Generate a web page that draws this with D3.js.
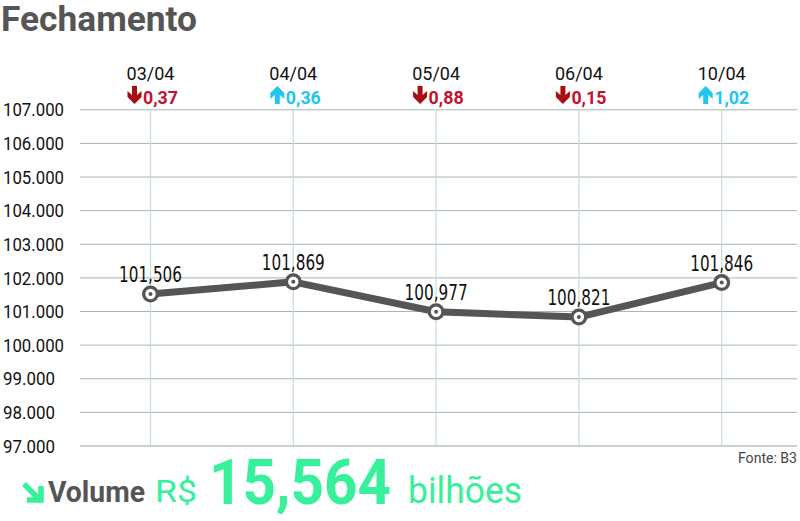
<!DOCTYPE html>
<html>
<head>
<meta charset="utf-8">
<script src="https://cdn.jsdelivr.net/npm/d3@7"></script>
<style>
  body { margin: 0; background: #fff; }
  svg { display: block; }
</style>
</head>
<body>
<div id="chart"></div>
<script>
// data
const dates = ['03/04', '04/04', '05/04', '06/04', '10/04'];
const closes = [101506, 101869, 100977, 100821, 101846];
const changes = [-0.37, 0.36, -0.88, -0.15, 1.02];
const yTicks = [97000, 98000, 99000, 100000, 101000, 102000, 103000, 104000, 105000, 106000, 107000];
const volume = 15.564;

const W = 800, H = 521;
const RED = '#c4122f', RED_ARROW = '#a80d14', CYAN = '#20c6ef', GREEN = '#36f09a', GREY = '#555';

const svg = d3.select('#chart').append('svg').attr('width', W).attr('height', H);

const x = d3.scalePoint().domain(dates).range([150.5, 721.7]);
const y = d3.scaleLinear().domain([97000, 107000]).range([445.5, 109.3]);

const ptLocale = d3.formatLocale({ decimal: ',', thousands: '.', grouping: [3], currency: ['R$ ', ''] });
const tickFmt = ptLocale.format(',');
const chgFmt = ptLocale.format('.2f');
const closeFmt = d3.format(',');
const volFmt = ptLocale.format('.3f');

// squeeze a text to a given width (no condensed fonts installed)
function squeeze(sel, w) {
  sel.attr('textLength', w).attr('lengthAdjust', 'spacingAndGlyphs');
}

// title
svg.append('text')
  .attr('x', 1).attr('y', 31)
  .style('font', 'bold 35px Roboto, sans-serif')
  .style('fill', GREY)
  .text('Fechamento')
  .call(squeeze, 196);

// horizontal grid + y labels
const yAxis = d3.axisLeft(y).tickValues(yTicks).tickSize(-(797 - 80)).tickFormat(tickFmt);
const yG = svg.append('g').attr('transform', 'translate(80,0)').call(yAxis);
yG.select('.domain').remove();
yG.selectAll('.tick line').attr('stroke', (d) => d === 97000 ? '#8fa3a0' : '#a9b5b3').attr('stroke-width', 1);
yG.selectAll('.tick text')
  .attr('x', -77).attr('dy', '0.36em')
  .attr('text-anchor', 'start')
  .style('font', '18.5px Roboto, sans-serif')
  .style('fill', '#111')
  .each(function (d) { d3.select(this).call(squeeze, d >= 100000 ? 61 : 52); });

// vertical grid
svg.append('g').selectAll('line').data(dates).join('line')
  .attr('x1', (d) => x(d)).attr('x2', (d) => x(d))
  .attr('y1', y(107000)).attr('y2', y(97000))
  .attr('stroke', '#c8dcd8').attr('stroke-width', 1.2);

// top date labels
const head = svg.append('g').selectAll('g').data(dates).join('g')
  .attr('transform', (d) => `translate(${x(d)},0)`);
head.append('text')
  .attr('y', 80).attr('text-anchor', 'middle')
  .style('font', '18px Roboto, sans-serif')
  .style('fill', '#111')
  .text((d) => d);
head.append('text')
  .attr('x', 10).attr('y', 104).attr('text-anchor', 'middle')
  .style('font', 'bold 19px Roboto, sans-serif')
  .style('fill', (d, i) => changes[i] < 0 ? RED : CYAN)
  .text((d, i) => chgFmt(Math.abs(changes[i])))
  .call(squeeze, 35);
// heavy arrows
const down = 'M-2.5,-15 L2.5,-15 L2.5,-6 L7,-10 L7,-4 L0,3 L-7,-4 L-7,-10 L-2.5,-6 Z';
const up = 'M-2.5,3 L2.5,3 L2.5,-6 L7,-2 L7,-8 L0,-15 L-7,-8 L-7,-2 L-2.5,-6 Z';
head.append('path')
  .attr('transform', 'translate(-16,101)')
  .attr('d', (d, i) => changes[i] < 0 ? down : up)
  .attr('fill', (d, i) => changes[i] < 0 ? RED_ARROW : CYAN);

// line
const pts = dates.map((d, i) => [x(d), y(closes[i])]);
svg.append('path')
  .attr('d', d3.line()(pts))
  .attr('fill', 'none')
  .attr('stroke', GREY)
  .attr('stroke-width', 7)
  .attr('stroke-linejoin', 'round');

// markers
const mk = svg.append('g').selectAll('g').data(pts).join('g')
  .attr('transform', (d) => `translate(${d[0]},${d[1]})`);
mk.append('circle').attr('r', 8.5).attr('fill', GREY);
mk.append('circle').attr('r', 5.2).attr('fill', '#fff');
mk.append('circle').attr('r', 2).attr('fill', GREY);

// value labels
svg.append('g').selectAll('text').data(pts).join('text')
  .attr('x', (d) => d[0]).attr('y', (d) => d[1] - 12)
  .attr('text-anchor', 'middle')
  .style('font', '22px "DejaVu Sans", sans-serif')
  .style('fill', '#111')
  .text((d, i) => closeFmt(closes[i]))
  .call(squeeze, 63);

// source
svg.append('text')
  .attr('x', 738).attr('y', 463)
  .style('font', '14.5px Roboto, sans-serif')
  .style('fill', '#444')
  .text('Fonte: B3')
  .call(squeeze, 59);

// volume footer
svg.append('path')
  .attr('d', 'M24,484 L38,498 M41,486 L41,500 L27,500')
  .attr('fill', 'none').attr('stroke', GREEN).attr('stroke-width', 5.5);
svg.append('text').attr('x', 48).attr('y', 502)
  .style('font', 'bold 29px Roboto, sans-serif').style('fill', GREY)
  .text('Volume').call(squeeze, 97);
svg.append('text').attr('x', 155).attr('y', 502)
  .style('font', '32px Roboto, sans-serif').style('fill', GREEN)
  .text('R$').call(squeeze, 42);
svg.append('text').attr('x', 209).attr('y', 504)
  .style('font', 'bold 63px Roboto, sans-serif').style('fill', GREEN)
  .text(volFmt(volume)).call(squeeze, 182);
svg.append('text').attr('x', 408).attr('y', 503)
  .style('font', '36px Roboto, sans-serif').style('fill', GREEN)
  .text('bilhões').call(squeeze, 114);
</script>
</body>
</html>
